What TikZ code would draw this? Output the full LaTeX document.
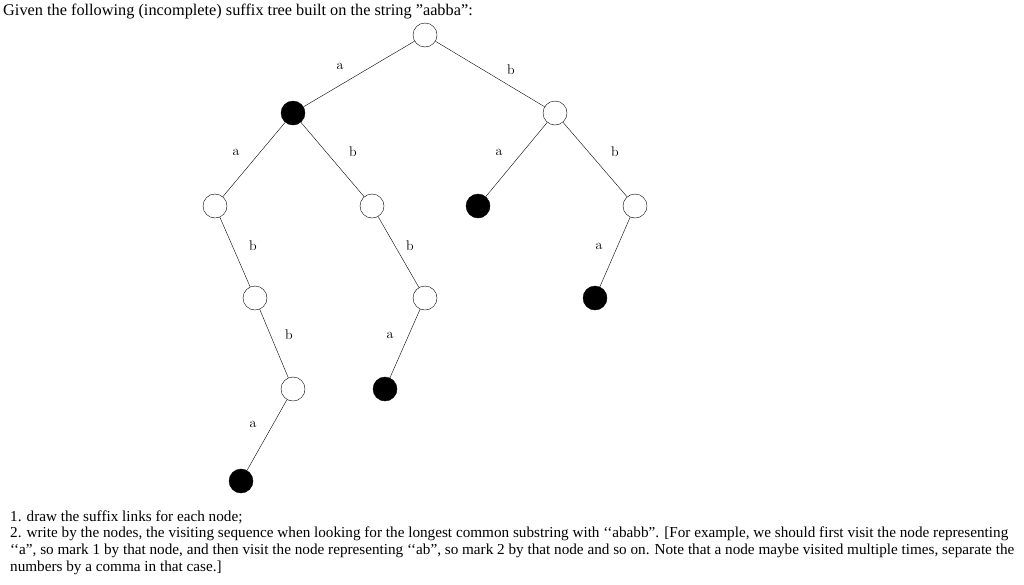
\documentclass[tikz,border=0pt]{standalone}
\usepackage{fontspec}
\setmainfont{Liberation Serif}
\newfontfamily\lmfont{Latin Modern Roman}
\newcommand{\bq}{{\char96}{\char96}}
\newcommand{\dq}{{\char34}}
\begin{document}
\begin{tikzpicture}[x=1pt,y=-1pt,
  wn/.style={circle,draw,fill=white,minimum size=24pt,inner sep=0pt},
  bn/.style={circle,draw,fill=black,minimum size=24pt,inner sep=0pt},
  el/.style={font=\lmfont\fontsize{14}{16}\selectfont},
  tx/.style={anchor=west,inner sep=0pt,font=\fontsize{15.2}{17}\selectfont}]
\useasboundingbox (0,0) rectangle (1024,584);
\node[wn] (r) at (425,35) {};
\node[bn] (a) at (293,113) {};
\node[wn] (b) at (555,113) {};
\node[wn] (aa) at (215,206) {};
\node[wn] (ab) at (372,206) {};
\node[bn] (ba) at (478,206) {};
\node[wn] (bb) at (635,206) {};
\node[wn] (aab) at (255,298) {};
\node[wn] (abb) at (425,298) {};
\node[bn] (bba) at (595,298) {};
\node[wn] (aabb) at (293,389) {};
\node[bn] (abba) at (385,389) {};
\node[bn] (aabba) at (241,481) {};
\draw (r)--(a); \draw (r)--(b);
\draw (a)--(aa); \draw (a)--(ab);
\draw (b)--(ba); \draw (b)--(bb);
\draw (aa)--(aab); \draw (aab)--(aabb); \draw (aabb)--(aabba);
\draw (ab)--(abb); \draw (abb)--(abba);
\draw (bb)--(bba);
\node[el] (l1) at (340,66) {a};
\node[el] (l2) at (511,70) {b};
\node[el] (l3) at (236,152) {a};
\node[el] (l4) at (353,152) {b};
\node[el] (l5) at (499,152) {a};
\node[el] (l6) at (615,152) {b};
\node[el] (l7) at (253,246) {b};
\node[el] (l8) at (410,246) {b};
\node[el] (l9) at (599,246) {a};
\node[el] (l10) at (289,335) {b};
\node[el] (l11) at (390,335) {a};
\node[el] (l12) at (253,424) {a};
\node[tx,font=\fontsize{16.3}{18}\selectfont] (t0) at (3,12) {Given the following (incomplete) suffix tree built on the string \dq aabba\dq:};
\node[tx] (t1) at (10,517) {1. draw the suffix links for each node;};
\node[tx] (t2) at (10,534) {2. write by the nodes, the visiting sequence when looking for the longest common substring with \bq ababb\dq. [For example, we should first visit the node representing};
\node[tx] (t3) at (10,551) {\bq a\dq, so mark 1 by that node, and then visit the node representing \bq ab\dq, so mark 2 by that node and so on. Note that a node maybe visited multiple times, separate the};
\node[tx] (t4) at (10,568) {numbers by a comma in that case.]};
\end{tikzpicture}
\end{document}
